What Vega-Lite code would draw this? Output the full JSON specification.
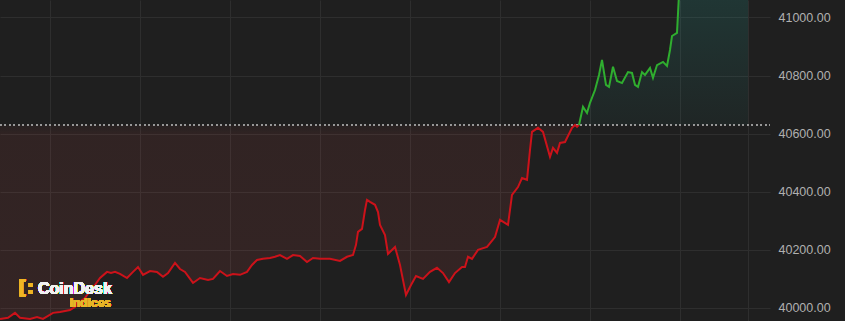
{
  "$schema": "https://vega.github.io/schema/vega-lite/v6.json",
  "width": 770,
  "height": 321,
  "autosize": "none",
  "padding": {"left": 0, "top": 0, "right": 75, "bottom": 0},
  "background": "#1f1f1f",
  "config": {
    "view": {"stroke": null},
    "axis": {"domain": false, "ticks": false, "gridColor": "#2e2e2e", "gridWidth": 1}
  },
  "data": {
    "values": [
      {"t": 0, "v": 39962, "s": "down"}, {"t": 8, "v": 39966, "s": "down"}, {"t": 15, "v": 39983, "s": "down"},
      {"t": 20, "v": 39966, "s": "down"}, {"t": 30, "v": 39962, "s": "down"}, {"t": 37, "v": 39969, "s": "down"},
      {"t": 43, "v": 39962, "s": "down"}, {"t": 53, "v": 39983, "s": "down"}, {"t": 60, "v": 39986, "s": "down"},
      {"t": 70, "v": 39993, "s": "down"}, {"t": 75, "v": 40003, "s": "down"}, {"t": 80, "v": 40021, "s": "down"},
      {"t": 85, "v": 40034, "s": "down"}, {"t": 90, "v": 40059, "s": "down"}, {"t": 95, "v": 40079, "s": "down"},
      {"t": 100, "v": 40103, "s": "down"}, {"t": 107, "v": 40124, "s": "down"}, {"t": 111, "v": 40120, "s": "down"},
      {"t": 115, "v": 40124, "s": "down"}, {"t": 120, "v": 40117, "s": "down"}, {"t": 127, "v": 40103, "s": "down"},
      {"t": 133, "v": 40124, "s": "down"}, {"t": 138, "v": 40141, "s": "down"}, {"t": 143, "v": 40114, "s": "down"},
      {"t": 150, "v": 40127, "s": "down"}, {"t": 157, "v": 40124, "s": "down"}, {"t": 163, "v": 40107, "s": "down"},
      {"t": 168, "v": 40120, "s": "down"}, {"t": 175, "v": 40155, "s": "down"}, {"t": 180, "v": 40134, "s": "down"},
      {"t": 185, "v": 40124, "s": "down"}, {"t": 193, "v": 40086, "s": "down"}, {"t": 200, "v": 40103, "s": "down"},
      {"t": 208, "v": 40096, "s": "down"}, {"t": 213, "v": 40100, "s": "down"}, {"t": 220, "v": 40127, "s": "down"},
      {"t": 227, "v": 40110, "s": "down"}, {"t": 233, "v": 40117, "s": "down"}, {"t": 240, "v": 40114, "s": "down"},
      {"t": 247, "v": 40124, "s": "down"}, {"t": 252, "v": 40148, "s": "down"}, {"t": 257, "v": 40165, "s": "down"},
      {"t": 263, "v": 40169, "s": "down"}, {"t": 270, "v": 40172, "s": "down"}, {"t": 275, "v": 40176, "s": "down"},
      {"t": 280, "v": 40182, "s": "down"}, {"t": 287, "v": 40169, "s": "down"}, {"t": 293, "v": 40182, "s": "down"},
      {"t": 300, "v": 40179, "s": "down"}, {"t": 307, "v": 40158, "s": "down"}, {"t": 313, "v": 40172, "s": "down"},
      {"t": 320, "v": 40169, "s": "down"}, {"t": 330, "v": 40169, "s": "down"}, {"t": 340, "v": 40162, "s": "down"},
      {"t": 347, "v": 40176, "s": "down"}, {"t": 353, "v": 40182, "s": "down"}, {"t": 356, "v": 40217, "s": "down"},
      {"t": 358, "v": 40262, "s": "down"}, {"t": 362, "v": 40272, "s": "down"}, {"t": 365, "v": 40337, "s": "down"},
      {"t": 367, "v": 40372, "s": "down"}, {"t": 370, "v": 40365, "s": "down"}, {"t": 375, "v": 40355, "s": "down"},
      {"t": 378, "v": 40330, "s": "down"}, {"t": 380, "v": 40286, "s": "down"}, {"t": 385, "v": 40251, "s": "down"},
      {"t": 388, "v": 40186, "s": "down"}, {"t": 395, "v": 40210, "s": "down"}, {"t": 400, "v": 40148, "s": "down"},
      {"t": 406, "v": 40045, "s": "down"}, {"t": 411, "v": 40079, "s": "down"}, {"t": 416, "v": 40110, "s": "down"},
      {"t": 423, "v": 40100, "s": "down"}, {"t": 430, "v": 40124, "s": "down"}, {"t": 437, "v": 40138, "s": "down"},
      {"t": 443, "v": 40120, "s": "down"}, {"t": 449, "v": 40089, "s": "down"}, {"t": 455, "v": 40120, "s": "down"},
      {"t": 462, "v": 40141, "s": "down"}, {"t": 465, "v": 40141, "s": "down"}, {"t": 468, "v": 40176, "s": "down"},
      {"t": 472, "v": 40169, "s": "down"}, {"t": 478, "v": 40200, "s": "down"}, {"t": 487, "v": 40210, "s": "down"},
      {"t": 495, "v": 40244, "s": "down"}, {"t": 500, "v": 40303, "s": "down"}, {"t": 508, "v": 40286, "s": "down"},
      {"t": 512, "v": 40389, "s": "down"}, {"t": 518, "v": 40416, "s": "down"}, {"t": 522, "v": 40447, "s": "down"},
      {"t": 527, "v": 40441, "s": "down"}, {"t": 530, "v": 40544, "s": "down"}, {"t": 532, "v": 40606, "s": "down"},
      {"t": 538, "v": 40620, "s": "down"}, {"t": 543, "v": 40606, "s": "down"}, {"t": 550, "v": 40520, "s": "down"},
      {"t": 553, "v": 40551, "s": "down"}, {"t": 557, "v": 40534, "s": "down"}, {"t": 560, "v": 40568, "s": "down"},
      {"t": 565, "v": 40571, "s": "down"}, {"t": 572, "v": 40620, "s": "down"}, {"t": 575, "v": 40630, "s": "down"},
      {"t": 577, "v": 40623, "s": "down"}, {"t": 579, "v": 40630, "s": "down"},
      {"t": 579, "v": 40630, "s": "up"}, {"t": 583, "v": 40692, "s": "up"}, {"t": 587, "v": 40671, "s": "up"},
      {"t": 590, "v": 40706, "s": "up"}, {"t": 595, "v": 40750, "s": "up"}, {"t": 599, "v": 40802, "s": "up"},
      {"t": 602, "v": 40854, "s": "up"}, {"t": 606, "v": 40768, "s": "up"}, {"t": 609, "v": 40761, "s": "up"},
      {"t": 613, "v": 40830, "s": "up"}, {"t": 617, "v": 40781, "s": "up"}, {"t": 622, "v": 40774, "s": "up"},
      {"t": 628, "v": 40812, "s": "up"}, {"t": 632, "v": 40809, "s": "up"}, {"t": 635, "v": 40768, "s": "up"},
      {"t": 638, "v": 40761, "s": "up"}, {"t": 642, "v": 40812, "s": "up"}, {"t": 645, "v": 40802, "s": "up"},
      {"t": 650, "v": 40826, "s": "up"}, {"t": 653, "v": 40792, "s": "up"}, {"t": 657, "v": 40836, "s": "up"},
      {"t": 663, "v": 40847, "s": "up"}, {"t": 667, "v": 40833, "s": "up"}, {"t": 670, "v": 40888, "s": "up"},
      {"t": 672, "v": 40936, "s": "up"}, {"t": 677, "v": 40947, "s": "up"}, {"t": 679, "v": 41080, "s": "up"},
      {"t": 685, "v": 41180, "s": "up"}, {"t": 695, "v": 41220, "s": "up"}, {"t": 705, "v": 41200, "s": "up"},
      {"t": 715, "v": 41250, "s": "up"}, {"t": 725, "v": 41240, "s": "up"}, {"t": 735, "v": 41280, "s": "up"},
      {"t": 748, "v": 41300, "s": "up"}
    ]
  },
  "encoding": {
    "x": {
      "field": "t", "type": "quantitative",
      "scale": {"domain": [0, 770], "nice": false, "zero": false},
      "axis": {"labels": false, "title": null, "grid": true, "values": [50, 140, 230, 320, 410, 500, 590, 680, 748]}
    },
    "y": {
      "field": "v", "type": "quantitative",
      "scale": {"domain": [39955, 41060], "nice": false, "zero": false},
      "axis": {
        "orient": "right", "title": null, "grid": true,
        "values": [40000, 40200, 40400, 40600, 40800, 41000],
        "format": ".2f", "labelColor": "#b0b0b0", "labelFontSize": 12.5,
        "labelFont": "Liberation Sans", "labelPadding": 8
      }
    }
  },
  "layer": [
    {
      "transform": [{"filter": "datum.s === 'up'"}],
      "mark": {
        "type": "area", "clip": true,
        "fill": {"gradient": "linear", "x1": 0, "y1": 0, "x2": 0, "y2": 1,
          "stops": [{"offset": 0, "color": "rgba(38,166,154,0.24)"}, {"offset": 1, "color": "rgba(38,166,154,0.05)"}]}
      },
      "encoding": {"y2": {"datum": 40630}}
    },
    {
      "transform": [{"filter": "datum.s === 'down'"}],
      "mark": {
        "type": "area", "clip": true,
        "fill": {"gradient": "linear", "x1": 0, "y1": 0, "x2": 0, "y2": 1,
          "stops": [{"offset": 0, "color": "rgba(239,83,80,0.04)"}, {"offset": 0.05, "color": "rgba(239,83,80,0.085)"}, {"offset": 1, "color": "rgba(239,83,80,0.1)"}]}
      },
      "encoding": {"y2": {"datum": 40630}}
    },
    {
      "mark": {"type": "rule", "color": "#9a9a9a", "strokeDash": [1.5, 3], "strokeWidth": 1},
      "encoding": {"y": {"datum": 40630}, "x": {"datum": 0}, "x2": {"datum": 770}}
    },
    {
      "transform": [{"filter": "datum.s === 'down'"}],
      "mark": {"type": "line", "color": "#cc121a", "strokeWidth": 2, "clip": true}
    },
    {
      "transform": [{"filter": "datum.s === 'up'"}],
      "mark": {"type": "line", "color": "#2fae2f", "strokeWidth": 2, "clip": true}
    },
    {
      "mark": {"type": "text", "text": "[:", "color": "#f0b523", "fontSize": 19, "fontWeight": "bold", "font": "DejaVu Sans", "align": "left", "baseline": "middle"},
      "encoding": {"x": {"datum": 18}, "y": {"datum": 40070}}
    },
    {
      "mark": {"type": "text", "text": "CoinDesk", "color": "#f2f2f2", "fontSize": 16, "fontWeight": "bold", "font": "Liberation Sans", "align": "left", "baseline": "middle"},
      "encoding": {"x": {"datum": 38}, "y": {"datum": 40065}}
    },
    {
      "mark": {"type": "text", "text": "Indices", "color": "#e8b628", "fontSize": 12, "fontWeight": "bold", "font": "Liberation Sans", "align": "right", "baseline": "middle"},
      "encoding": {"x": {"datum": 111}, "y": {"datum": 40017}}
    }
  ]
}
